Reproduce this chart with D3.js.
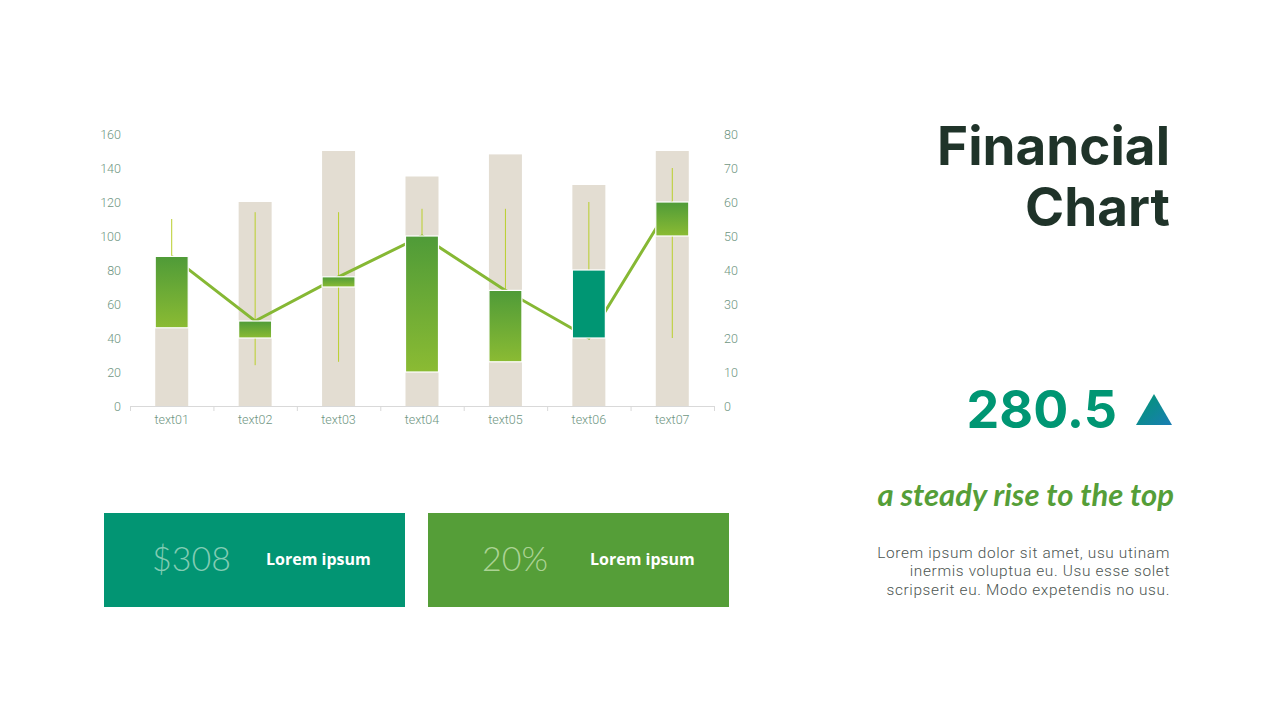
<html>
<head>
<meta charset="utf-8">
<script src="https://d3js.org/d3.v7.min.js"></script>
<style>
  body { margin: 0; background: #fff; }
  .axis text { font-family: Roboto; font-weight: 300; font-size: 12.5px; fill: #6f9683; }
</style>
</head>
<body>
<script>
// chart data
var categories = ["text01", "text02", "text03", "text04", "text05", "text06", "text07"];
var barValues = [85, 120, 150, 135, 148, 130, 150];       // left axis (beige columns)
var openValues = [23, 20, 35, 10, 13, 40, 50];            // right axis (candles)
var highValues = [55, 57, 57, 58, 58, 60, 70];
var lowValues = [23, 12, 13, 10, 13, 20, 20];
var closeValues = [44, 25, 38, 50, 34, 20, 60];
var leftTicks = [0, 20, 40, 60, 80, 100, 120, 140, 160];
var rightTicks = [0, 10, 20, 30, 40, 50, 60, 70, 80];

var width = 1280, height = 720;

var svg = d3.select("body").append("svg")
    .attr("width", width)
    .attr("height", height);

var defs = svg.append("defs");
var gr = defs.append("linearGradient").attr("id", "boxGrad")
    .attr("x1", 0).attr("y1", 0).attr("x2", 0).attr("y2", 1);
gr.append("stop").attr("offset", "0%").attr("stop-color", "#4f9b38");
gr.append("stop").attr("offset", "100%").attr("stop-color", "#8bbb33");

var tg = defs.append("linearGradient").attr("id", "triGrad")
    .attr("x1", 0).attr("y1", 0).attr("x2", 1).attr("y2", 1);
tg.append("stop").attr("offset", "0%").attr("stop-color", "#009770");
tg.append("stop").attr("offset", "100%").attr("stop-color", "#1a7db4");

var x = d3.scaleBand().domain(categories).range([130, 714]);
var xi = d3.scaleLinear().domain([0, categories.length]).range([130, 714]);
var yL = d3.scaleLinear().domain([0, 160]).range([406, 134]);
var yR = d3.scaleLinear().domain([0, 80]).range([406, 134]);
var bw = 33;

var rows = categories.map(function(c, i) {
  return { cat: c, bar: barValues[i], open: openValues[i], high: highValues[i],
           low: lowValues[i], close: closeValues[i] };
});

// axes
svg.append("g").attr("class", "axis")
    .attr("transform", "translate(130,0)")
    .call(d3.axisLeft(yL).tickValues(leftTicks).tickSize(0).tickPadding(9))
    .call(function(g) { g.select(".domain").remove(); });

svg.append("g").attr("class", "axis")
    .attr("transform", "translate(714,0)")
    .call(d3.axisRight(yR).tickValues(rightTicks).tickSize(0).tickPadding(10))
    .call(function(g) { g.select(".domain").remove(); });

svg.append("g")
    .attr("transform", "translate(0,406)")
    .call(d3.axisBottom(xi).ticks(7).tickSize(5).tickFormat(""))
    .call(function(g) {
      g.select(".domain").attr("stroke", "#d9d9d9").attr("d", "M130,0.5H714");
      g.selectAll(".tick line").attr("stroke", "#d9d9d9");
    });

svg.append("g").attr("class", "axis")
    .attr("transform", "translate(0,406)")
    .call(d3.axisBottom(x).tickSize(0).tickPadding(9))
    .call(function(g) { g.select(".domain").remove(); });

// beige columns
svg.append("g").selectAll("rect").data(rows).enter().append("rect")
    .attr("x", function(d) { return x(d.cat) + x.bandwidth() / 2 - bw / 2; })
    .attr("y", function(d) { return yL(d.bar); })
    .attr("width", bw)
    .attr("height", function(d) { return yL(0) - yL(d.bar); })
    .attr("fill", "#e3ddd2");

// wicks
svg.append("g").selectAll("line").data(rows).enter().append("line")
    .attr("x1", function(d) { return x(d.cat) + x.bandwidth() / 2; })
    .attr("x2", function(d) { return x(d.cat) + x.bandwidth() / 2; })
    .attr("y1", function(d) { return yR(d.high); })
    .attr("y2", function(d) { return yR(d.low); })
    .attr("stroke", "#b9cf2c")
    .attr("stroke-width", 1);

// close line
var line = d3.line()
    .x(function(d) { return x(d.cat) + x.bandwidth() / 2; })
    .y(function(d) { return yR(d.close); });

svg.append("path").datum(rows)
    .attr("d", line)
    .attr("fill", "none")
    .attr("stroke", "#86b834")
    .attr("stroke-width", 3);

// candle boxes
svg.append("g").selectAll("rect").data(rows).enter().append("rect")
    .attr("x", function(d) { return x(d.cat) + x.bandwidth() / 2 - bw / 2; })
    .attr("y", function(d) { return yR(Math.max(d.open, d.close)); })
    .attr("width", bw)
    .attr("height", function(d) { return Math.abs(yR(d.open) - yR(d.close)); })
    .attr("fill", function(d) { return d.close >= d.open ? "url(#boxGrad)" : "#009673"; })
    .attr("stroke", "#fff")
    .attr("stroke-width", 1.2);

// right side text
var title = svg.append("text")
    .attr("text-anchor", "end")
    .style("font-family", "Inter").style("font-weight", 700)
    .style("font-size", "53px").style("fill", "#1f3329");
title.append("tspan").attr("x", 1170).attr("y", 165).text("Financial");
title.append("tspan").attr("x", 1170).attr("y", 226).text("Chart");

svg.append("text")
    .attr("x", 1117).attr("y", 428)
    .attr("text-anchor", "end")
    .style("font-family", "Inter").style("font-weight", 700)
    .style("font-size", "52px").style("fill", "#009673")
    .text("280.5");

var tri = d3.path();
tri.moveTo(1154, 394);
tri.lineTo(1172, 425);
tri.lineTo(1136, 425);
tri.closePath();
svg.append("path").attr("d", tri.toString()).attr("fill", "url(#triGrad)");

svg.append("text")
    .attr("x", 1174).attr("y", 506)
    .attr("text-anchor", "end")
    .style("font-family", "Lato").style("font-weight", 700).style("font-style", "italic")
    .style("font-size", "31px").style("fill", "#559e38")
    .text("a steady rise to the top");

var bodyLines = ["Lorem ipsum dolor sit amet, usu utinam",
                 "inermis voluptua eu. Usu esse solet",
                 "scripserit eu. Modo expetendis no usu."];
svg.append("g").selectAll("text").data(bodyLines).enter().append("text")
    .attr("x", 1170)
    .attr("y", function(d, i) { return 558 + i * 18.3; })
    .attr("text-anchor", "end")
    .style("font-family", "Roboto").style("font-weight", 300)
    .style("font-size", "15.4px").style("letter-spacing", "0.65px")
    .style("fill", "#4c5551")
    .text(function(d) { return d; });

// bottom boxes
var boxes = [
  { x: 104, fill: "#029573", big: "$308", bigFill: "#82ccb4", bigX: 152, labX: 266 },
  { x: 428, fill: "#559e38", big: "20%", bigFill: "#acd395", bigX: 482, labX: 590 }
];
var bg = svg.append("g").selectAll("g").data(boxes).enter().append("g");
bg.append("rect")
    .attr("x", function(d) { return d.x; }).attr("y", 513)
    .attr("width", 301).attr("height", 94)
    .attr("fill", function(d) { return d.fill; });
bg.append("text")
    .attr("x", function(d) { return d.bigX; }).attr("y", 571)
    .style("font-family", "Lato").style("font-weight", 300)
    .style("font-size", "34px")
    .style("fill", function(d) { return d.bigFill; })
    .text(function(d) { return d.big; });
bg.append("text")
    .attr("x", function(d) { return d.labX; }).attr("y", 565)
    .style("font-family", "'Open Sans'").style("font-weight", 700)
    .style("font-size", "16px").style("fill", "#fff")
    .text("Lorem ipsum");
</script>
</body>
</html>
